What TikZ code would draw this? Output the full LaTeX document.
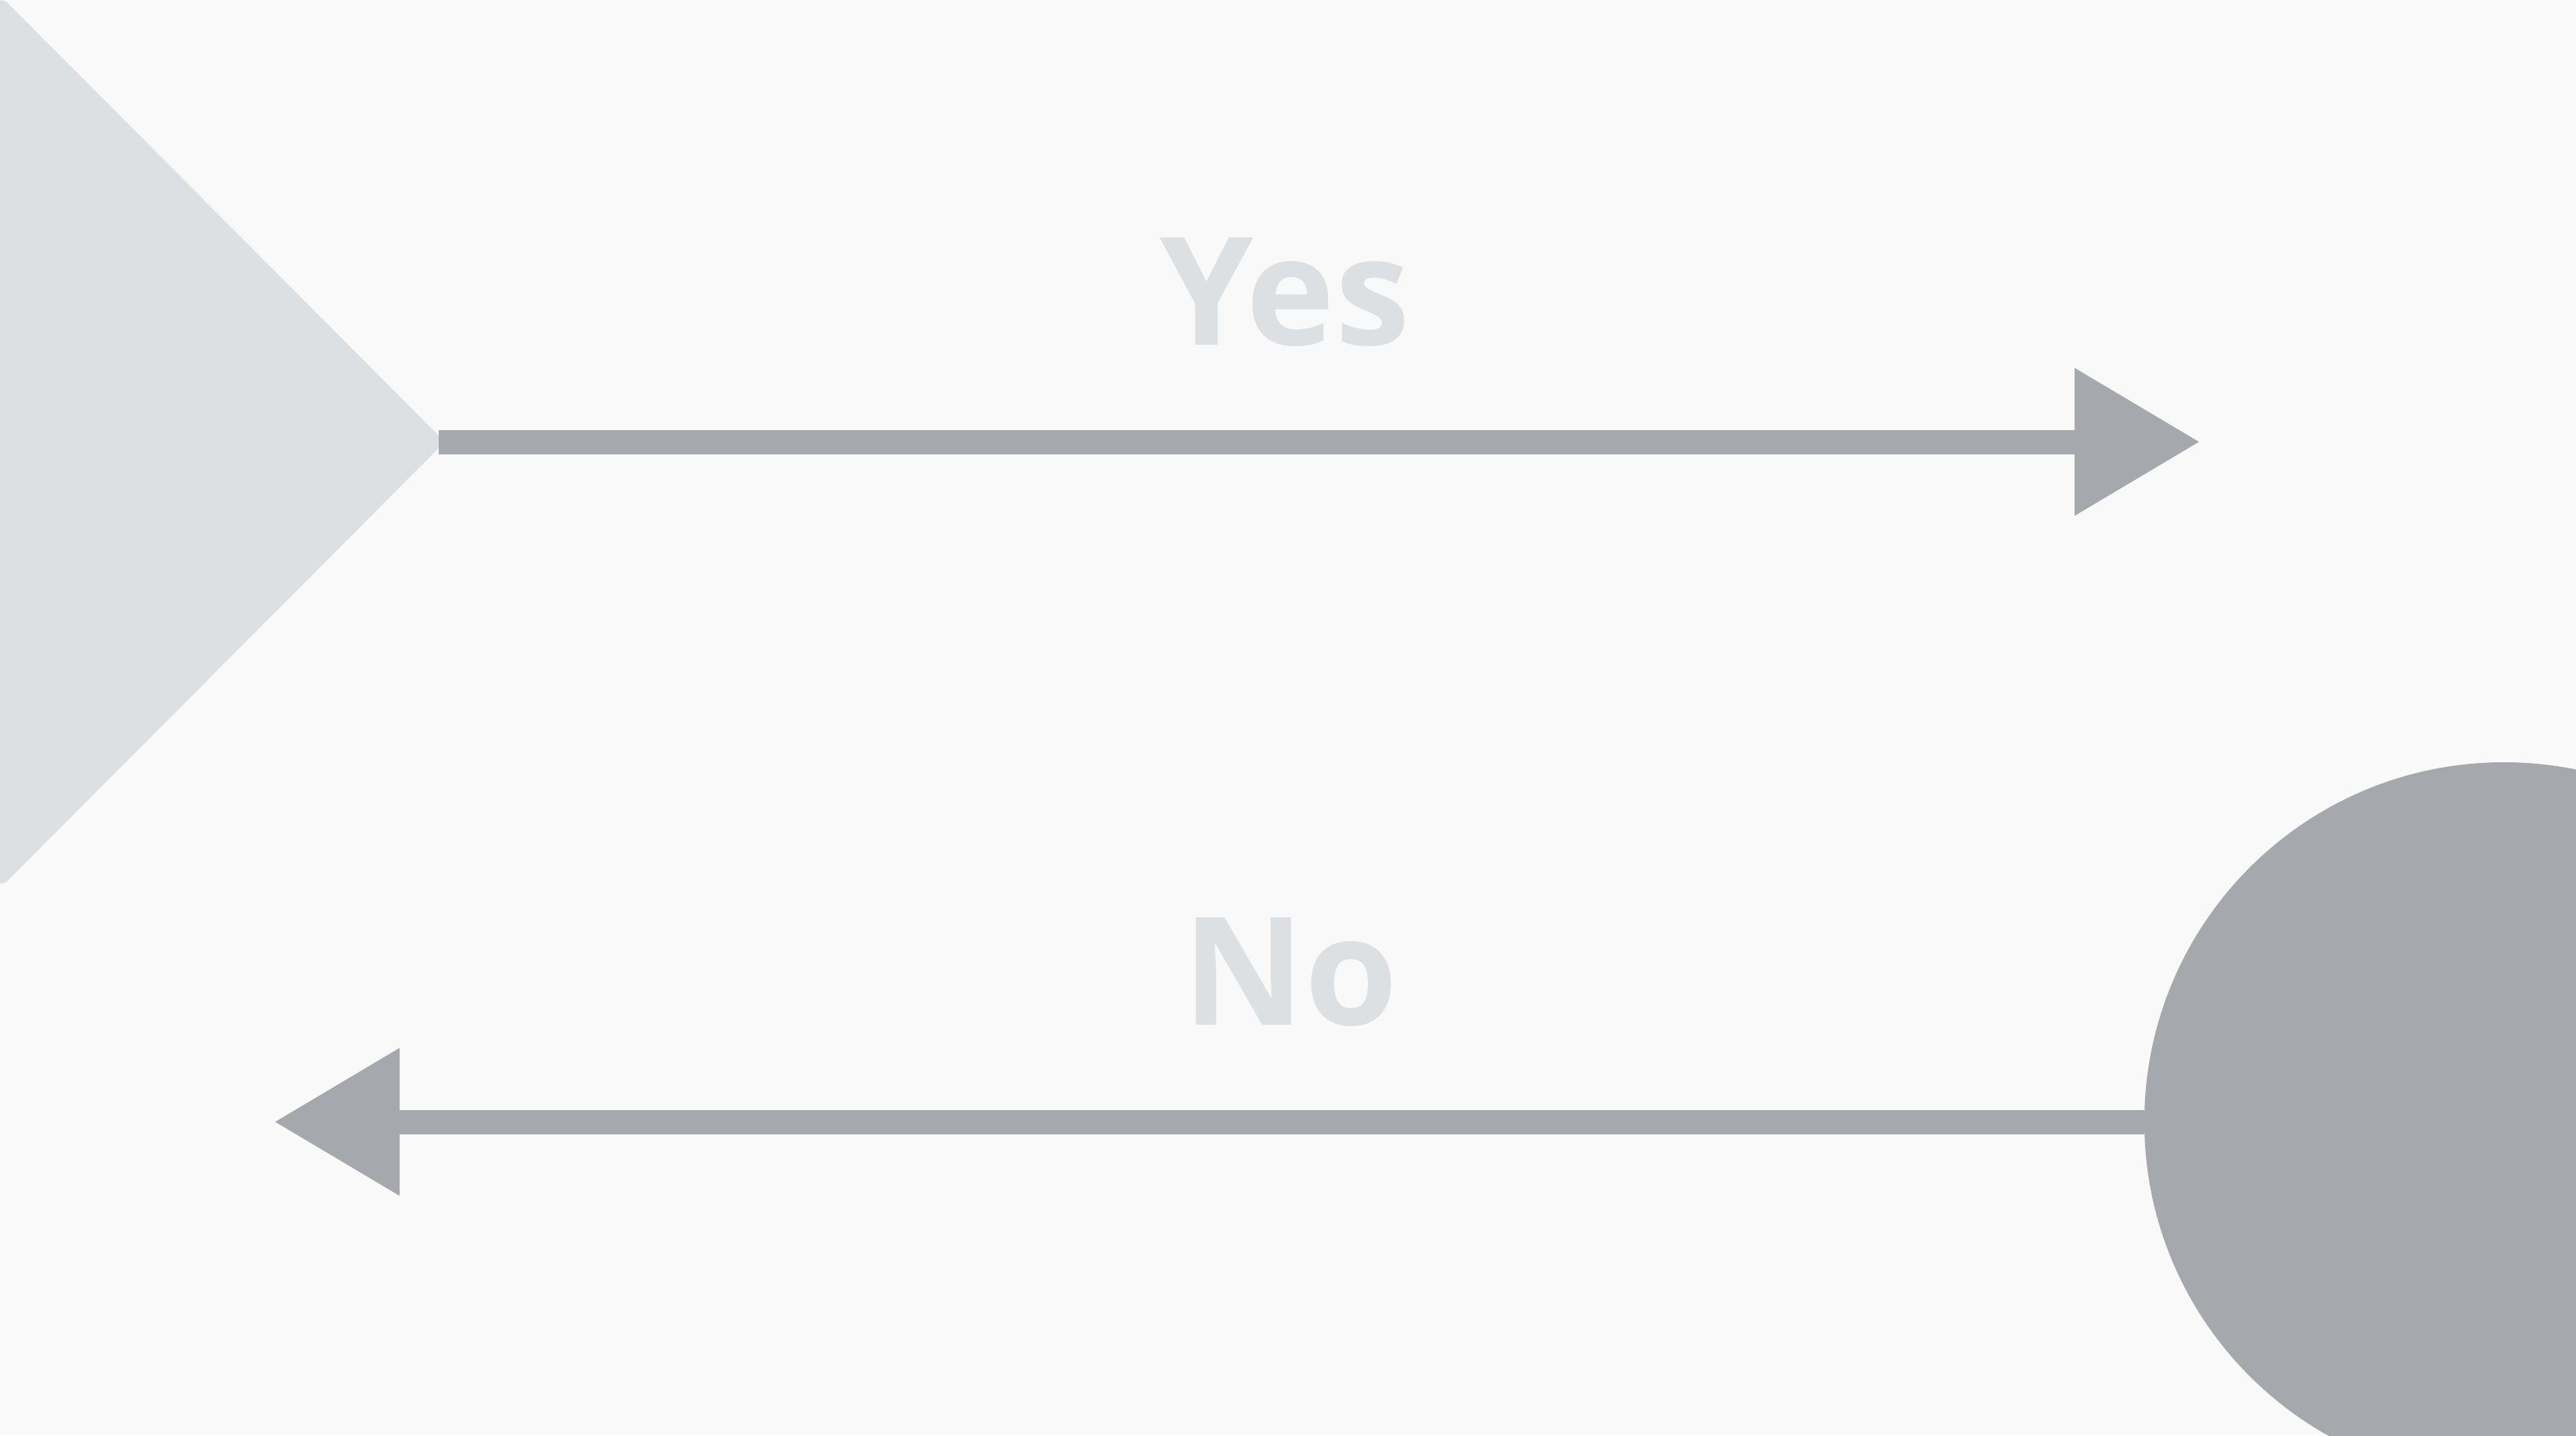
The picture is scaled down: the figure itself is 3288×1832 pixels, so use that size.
\documentclass[tikz,border=0pt]{standalone}
\usepackage{fontspec}
\setmainfont{Open Sans}
\usetikzlibrary{shapes.geometric,arrows.meta}
\definecolor{bgc}{HTML}{F9F9F9}
\definecolor{light}{HTML}{DDE0E3}
\definecolor{mid}{HTML}{A5A9AD}
\tikzset{
  decision/.style={diamond,fill=light,draw=none,inner sep=0pt,minimum width=1136pt,minimum height=1140pt,rounded corners=14pt},
  endpt/.style={circle,fill=mid,draw=none,inner sep=0pt,minimum size=918pt},
  flow/.style={draw=mid,line width=31pt,-{Triangle[length=160pt,width=180pt]}},
  lbl/.style={text=light,font=\fontsize{192}{220}\selectfont\bfseries,inner sep=0pt,anchor=base}
}
\begin{document}
\begin{tikzpicture}[x=1pt,y=-1pt]
\fill[bgc] (0,0) rectangle (3288,1832);
\useasboundingbox (0,0) rectangle (3288,1832);
\clip (0,0) rectangle (3288,1832);
\node[decision] (d) at (0,564) {};
\node[endpt] (c) at (3196,1432) {};
\coordinate (yesend) at (2808,564);
\coordinate (noend) at (350,1432);
\draw[flow] ([xshift=-8pt]d.east) -- (yesend);
\draw[flow] (c.west) -- (noend);
\node[lbl] (yes) at (1640,440) {Yes};
\node[lbl] (no) at (1647,1308) {No};
\end{tikzpicture}
\end{document}
